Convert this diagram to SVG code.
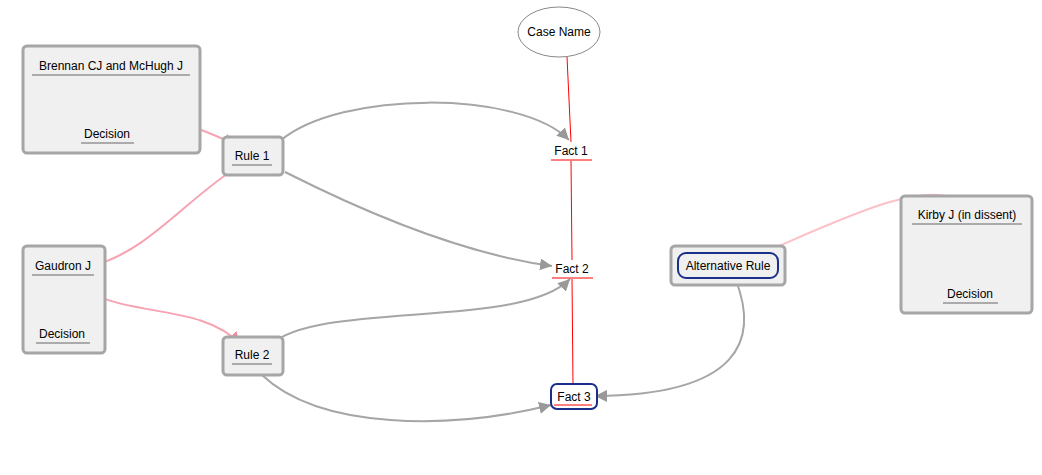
<svg xmlns="http://www.w3.org/2000/svg" width="1042" height="475" viewBox="0 0 1042 475">
<style>
text{font-family:"Liberation Sans",Arial,sans-serif;font-size:12px;fill:#000;text-anchor:middle}
.box{fill:#f0f0f0;stroke:#a6a6a6;stroke-width:3}
.ul{stroke:#666;stroke-width:1}
.red{stroke:#f00;stroke-width:1}
.g{fill:none;stroke:#a6a6a6;stroke-width:2}
.p{fill:none;stroke:#f7a3b3;stroke-width:2}
.blue{fill:none;stroke:#1a2f8a;stroke-width:2}
</style>
<defs>
<marker id="ag" viewBox="0 0 10 10" refX="10" refY="5" markerWidth="6" markerHeight="6" orient="auto" markerUnits="userSpaceOnUse"><path d="M0,0L10,5L0,10z" fill="#888" transform="scale(1)"/></marker>
<marker id="agb" viewBox="0 0 10 10" refX="10" refY="5" markerWidth="12" markerHeight="12" orient="auto" markerUnits="userSpaceOnUse"><path d="M0,0L10,5L0,10z" fill="#999"/></marker>
<marker id="ap" viewBox="0 0 10 10" refX="10" refY="5" markerWidth="12" markerHeight="12" orient="auto" markerUnits="userSpaceOnUse"><path d="M0,0L10,5L0,10z" fill="#f48aa0"/></marker>
</defs>
<g id="connectors">
<path class="red" fill="none" d="M567,57 L571,142"/>
<path class="red" fill="none" d="M571,161 L572,260"/>
<path class="red" fill="none" d="M572,279 L573,385"/>
<path class="p" marker-end="url(#ap)" d="M100,78 C110,110 180,115 235,145"/>
<path class="p" marker-end="url(#ap)" d="M95,265 C150,250 190,195 242,164"/>
<path class="p" marker-end="url(#ap)" d="M75,280 C110,320 200,300 240,344"/>
<path class="p" marker-end="url(#ap)" style="stroke:#fbc0c8" d="M957,200 C920,180 840,220 758,255"/>
<path class="g" marker-end="url(#agb)" d="M280,141 C340,90 520,90 569,140"/>
<path class="g" marker-end="url(#agb)" d="M285,172 C380,220 470,255 552,266"/>
<path class="g" marker-end="url(#agb)" d="M270,345 C320,300 520,330 570,279"/>
<path class="g" marker-end="url(#agb)" d="M262,375 C320,430 450,430 551,405"/>
<path class="g" marker-end="url(#agb)" d="M735,278 C760,340 740,395 595,396"/>
</g>
<g id="case-name"><ellipse cx="559" cy="32" rx="41" ry="25" fill="#fff" stroke="#888"/><text x="559" y="36">Case Name</text></g>
<g id="brennan"><rect class="box" x="23" y="46" width="177" height="107" rx="4"/><text x="111" y="70">Brennan CJ and McHugh J</text><line class="ul" x1="32" y1="75" x2="190" y2="75"/><text x="107" y="138">Decision</text><line class="ul" x1="81" y1="143" x2="134" y2="143"/></g>
<g id="gaudron"><rect class="box" x="23" y="246" width="82" height="107" rx="4"/><text x="63" y="270">Gaudron J</text><line class="ul" x1="32" y1="275" x2="94" y2="275"/><text x="62" y="338">Decision</text><line class="ul" x1="36" y1="343" x2="90" y2="343"/></g>
<g id="rule1"><rect class="box" x="223" y="137" width="60" height="38" rx="4"/><text x="252" y="160">Rule 1</text><line class="ul" x1="232" y1="165" x2="272" y2="165"/></g>
<g id="rule2"><rect class="box" x="223" y="337" width="60" height="38" rx="4"/><text x="252" y="359">Rule 2</text><line class="ul" x1="232" y1="364" x2="272" y2="364"/></g>
<g id="fact1"><text x="571" y="155">Fact 1</text><line class="red" x1="551" y1="160" x2="592" y2="160"/></g>
<g id="fact2"><text x="572" y="273">Fact 2</text><line class="red" x1="552" y1="278" x2="593" y2="278"/></g>
<g id="fact3"><rect x="551" y="384" width="46" height="25" rx="6" fill="#fff" stroke="#1a2f8a" stroke-width="2"/><text x="574" y="401">Fact 3</text><line class="red" x1="554" y1="405" x2="592" y2="405"/></g>
<g id="alt-rule"><rect class="box" x="671" y="246" width="114" height="39" rx="4"/><rect x="678" y="253" width="100" height="25" rx="8" fill="#f0f0f0" stroke="#1a2f8a" stroke-width="2"/><text x="728" y="270">Alternative Rule</text></g>
<g id="kirby"><rect class="box" x="901" y="196" width="131" height="117" rx="4"/><text x="967" y="219">Kirby J (in dissent)</text><line class="ul" x1="912" y1="224" x2="1022" y2="224"/><text x="970" y="298">Decision</text><line class="ul" x1="943" y1="303" x2="998" y2="303"/></g>
</svg>
